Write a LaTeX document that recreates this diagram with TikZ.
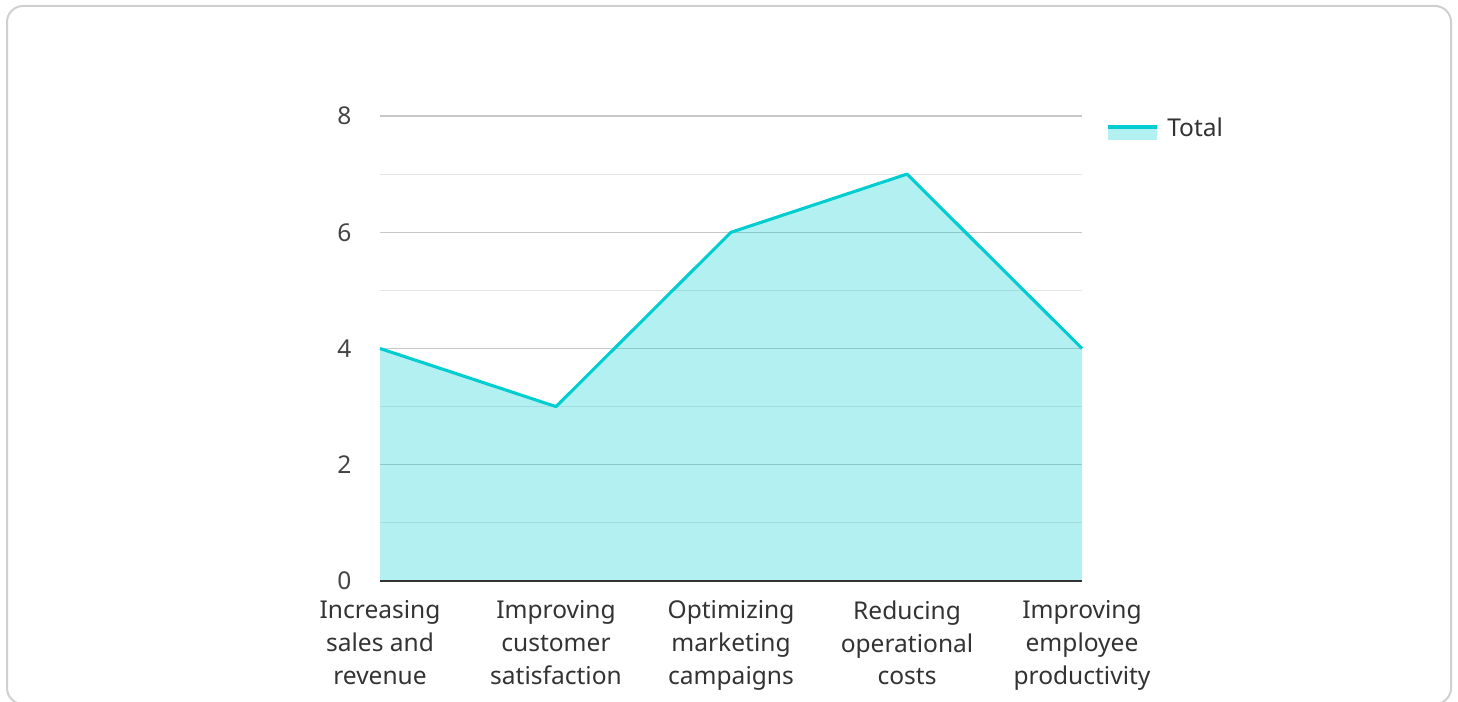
\documentclass[tikz,border=0pt]{standalone}
\usepackage{fontspec}
\setmainfont{Noto Sans}
\definecolor{lineC}{HTML}{00CDD0}
\definecolor{fillC}{HTML}{00CDD0}
\definecolor{majorG}{HTML}{C8C8C8}
\definecolor{minorG}{HTML}{E6E6E6}
\definecolor{txt}{HTML}{333333}
\definecolor{tick}{HTML}{444444}
\definecolor{frameC}{HTML}{D0D0D0}
\begin{document}
\begin{tikzpicture}[x=0.75pt,y=-0.75pt,
  lbl/.style={font=\fontsize{18.4}{24.5}\selectfont, text=txt, align=center, anchor=north},
  ticklbl/.style={font=\fontsize{18.4}{22}\selectfont, text=tick, anchor=east},
  major/.style={majorG, line width=1pt},
  minor/.style={minorG, line width=0.9pt}]
\useasboundingbox (0,0) rectangle (1458,702);
\draw[frameC, line width=1.5pt, rounded corners=12pt] (7,6) rectangle (1451,704);
% grid
\foreach \v in {1,3,5,7} \draw[minor] (380,{581-58.125*\v}) -- (1082,{581-58.125*\v});
\foreach \v in {2,4,6,8} \draw[major] (380,{581-58.125*\v}) -- (1082,{581-58.125*\v});
\foreach \v in {0,2,4,6,8} \node[ticklbl] (t\v) at (356,{581-58.125*\v}) {\v};
% fill
\fill[fillC, fill opacity=0.3] (380,581) -- (380,348.5) -- (556,406.6) -- (731,232.3) -- (907,174.1) -- (1082,348.5) -- (1082,581) -- cycle;
\draw[txt, line width=1.3pt] (380,581) -- (1082,581);
% data line
\coordinate (p1) at (380,348.5);
\coordinate (p2) at (556,406.6);
\coordinate (p3) at (731,232.3);
\coordinate (p4) at (907,174.1);
\coordinate (p5) at (1082,348.5);
\draw[lineC, line width=2.3pt, line join=round] (p1) -- (p2) -- (p3) -- (p4) -- (p5);
% category labels
\node[lbl] (c1) at (380,596) {Increasing\\sales and\\revenue};
\node[lbl] (c2) at (556,596) {Improving\\customer\\satisfaction};
\node[lbl] (c3) at (731,596) {Optimizing\\marketing\\campaigns};
\node[lbl] (c4) at (907,596) {Reducing\\operational\\costs};
\node[lbl] (c5) at (1082,596) {Improving\\employee\\productivity};
% legend
\fill[fillC, fill opacity=0.3] (1108,127) rectangle (1157,140);
\draw[lineC, line width=2.3pt] (1108,127) -- (1157,127);
\node[anchor=west, font=\fontsize{18.4}{22}\selectfont, text=txt, inner sep=0pt] (leg) at (1167,127) {Total};
\end{tikzpicture}
\end{document}
